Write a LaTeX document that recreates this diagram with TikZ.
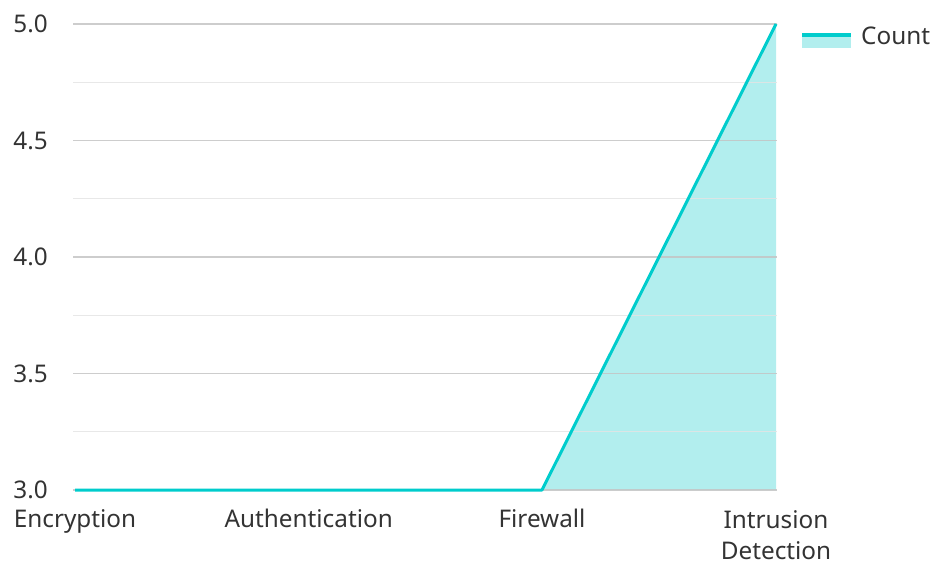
\documentclass[tikz,border=0pt]{standalone}
\usepackage{fontspec}
\setmainfont{Noto Sans}
\definecolor{turq}{RGB}{0,204,204}
\definecolor{turqfill}{RGB}{178,238,238}
\definecolor{majgrid}{RGB}{196,196,196}
\definecolor{mingrid}{RGB}{228,228,228}
\definecolor{txt}{RGB}{51,51,51}
\begin{document}
\begin{tikzpicture}[x=1pt,y=1pt,
  major/.style={draw=majgrid,line width=1.3pt},
  minor/.style={draw=mingrid,line width=1.3pt},
  ylab/.style={anchor=east,font=\fontsize{24.3}{28}\selectfont,text=txt,inner sep=0pt},
  xlab/.style={anchor=base,font=\fontsize{24.3}{31}\selectfont,text=txt,inner sep=0pt,align=center},
  series/.style={draw=turq,line width=3pt,line join=round}]
\useasboundingbox (0,0) rectangle (933,562);
% data points
\coordinate (p1) at (75,72);
\coordinate (p2) at (308.7,72);
\coordinate (p3) at (542,72);
\coordinate (p4) at (776,538);
% fill
\fill[turqfill] (p3) -- (p4) -- (776,72) -- cycle;
% grid
\foreach \v/\s in {0/major,1/minor,2/major,3/minor,4/major,5/minor,6/major,7/minor,8/major}{
  \draw[\s,opacity=0.85] (73,72+\v*58.25) -- (777,72+\v*58.25);
}
% y labels
\node[ylab] (y30) at (48,72) {3.0};
\node[ylab] (y35) at (48,188.5) {3.5};
\node[ylab] (y40) at (48,305) {4.0};
\node[ylab] (y45) at (48,421.5) {4.5};
\node[ylab] (y50) at (48,538) {5.0};
% series
\draw[series] (p1) -- (p2) -- (p3) -- (p4);
% x labels
\node[xlab] (x1) at (75,35) {Encryption};
\node[xlab] (x2) at (308.7,35) {Authentication};
\node[xlab] (x3) at (542,35) {Firewall};
\node[xlab,anchor=north] (x4) at (776,52) {Intrusion\\Detection};
% legend
\fill[turqfill] (802,514) rectangle (851,527);
\draw[turq,line width=3.5pt] (802,527) -- (851,527);
\node[anchor=west,font=\fontsize{24.3}{28}\selectfont,text=txt,inner sep=0pt] (leg) at (861,526) {Count};
\end{tikzpicture}
\end{document}
